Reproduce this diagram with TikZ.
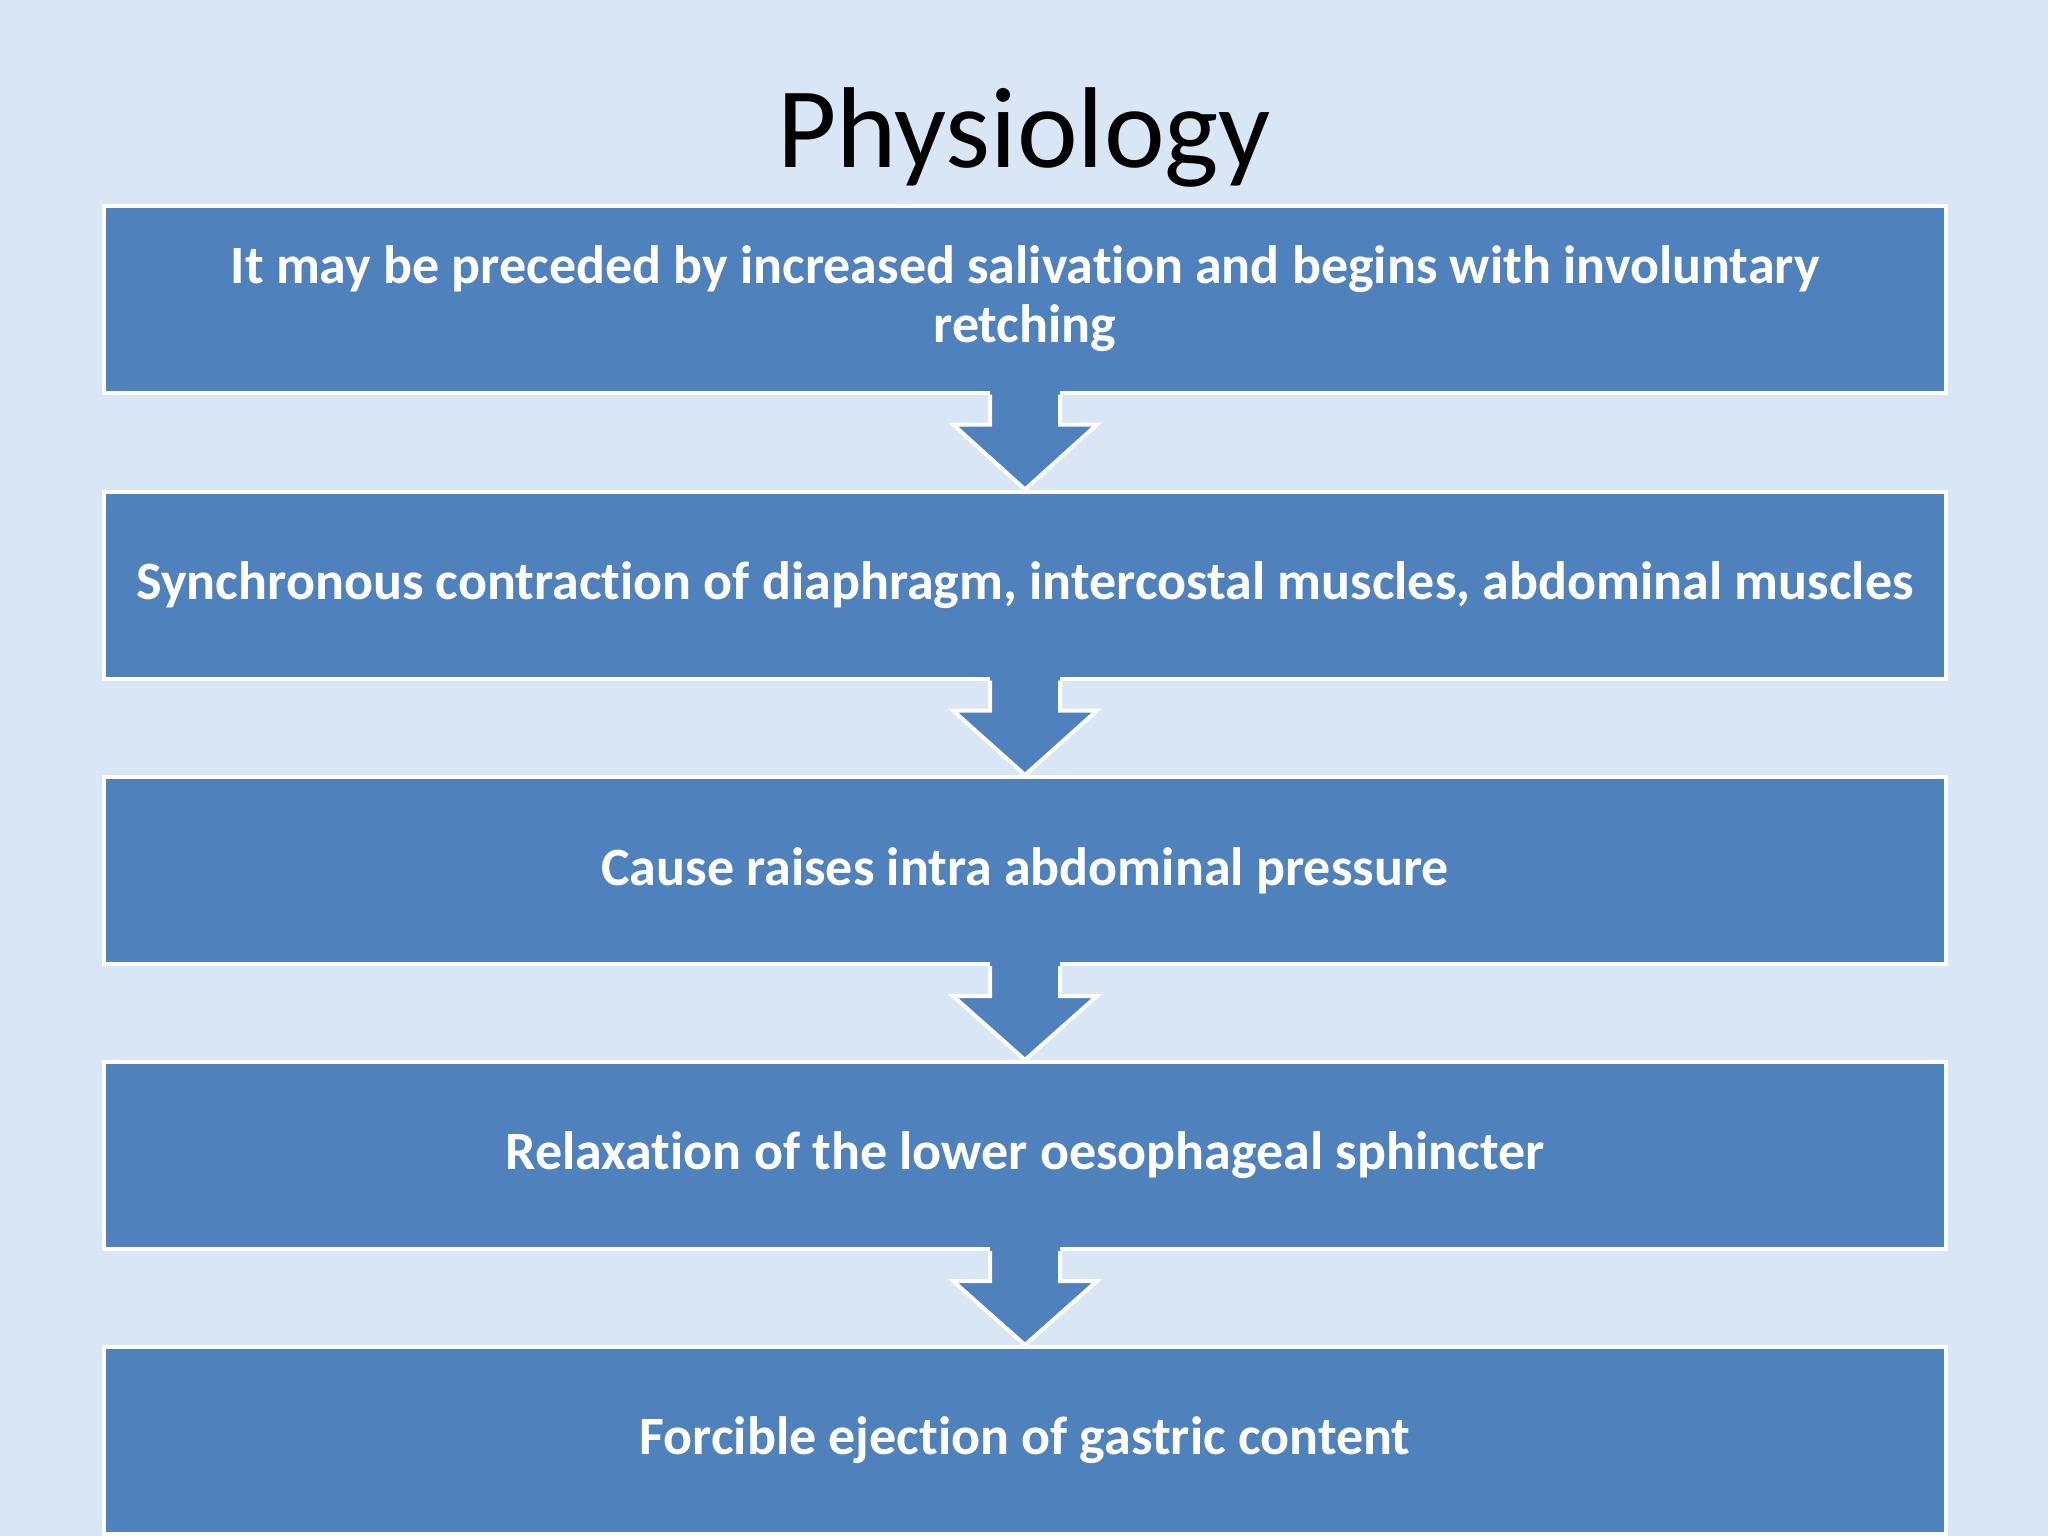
\documentclass[tikz,border=0pt]{standalone}
\usepackage{fontspec}
\setmainfont{Carlito}[Ligatures={NoCommon}]
\usetikzlibrary{calc}
\definecolor{bgblue}{RGB}{216,230,245}
\definecolor{boxblue}{RGB}{79,129,189}
\tikzset{
  stepbox/.style={rectangle, draw=white, line width=4pt, fill=boxblue,
    minimum width=1842pt, minimum height=187pt, inner sep=0pt,
    text=white, align=center, font=\bfseries\fontsize{54}{59}\selectfont},
  titletext/.style={font=\fontsize{115}{138}\selectfont, text=black}
}
\newcommand{\downarrowshape}[2]{%
  \fill[boxblue] ($(#1.south)+(-35,-4)$) -- ($(#1.south)+(-35,30)$) -- ($(#1.south)+(-72,30)$)
    -- (#2.north) -- ($(#1.south)+(72,30)$) -- ($(#1.south)+(35,30)$) -- ($(#1.south)+(35,-4)$) -- cycle;
  \draw[white, line width=4pt, line join=miter] ($(#1.south)+(-35,0)$) -- ($(#1.south)+(-35,30)$) -- ($(#1.south)+(-72,30)$)
    -- (#2.north) -- ($(#1.south)+(72,30)$) -- ($(#1.south)+(35,30)$) -- ($(#1.south)+(35,0)$);
}
\begin{document}
\begin{tikzpicture}[x=1pt,y=-1pt]
\fill[bgblue] (0,0) rectangle (2048,1536);
\useasboundingbox (0,0) rectangle (2048,1536);
\node[titletext] (title) at (1024,137) {Physiology};
\node[stepbox] (b1) at (1025,299) {It may be preceded by increased salivation and begins with involuntary\\retching};
\node[stepbox] (b2) at (1025,585) {Synchronous contraction of diaphragm, intercostal muscles, abdominal muscles};
\node[stepbox] (b3) at (1025,870.5) {Cause raises intra abdominal pressure};
\node[stepbox] (b4) at (1025,1155.5) {Relaxation of the lower oesophageal sphincter};
\node[stepbox] (b5) at (1025,1440.5) {Forcible ejection of gastric content};
\downarrowshape{b1}{b2}
\downarrowshape{b2}{b3}
\downarrowshape{b3}{b4}
\downarrowshape{b4}{b5}
\end{tikzpicture}
\end{document}
